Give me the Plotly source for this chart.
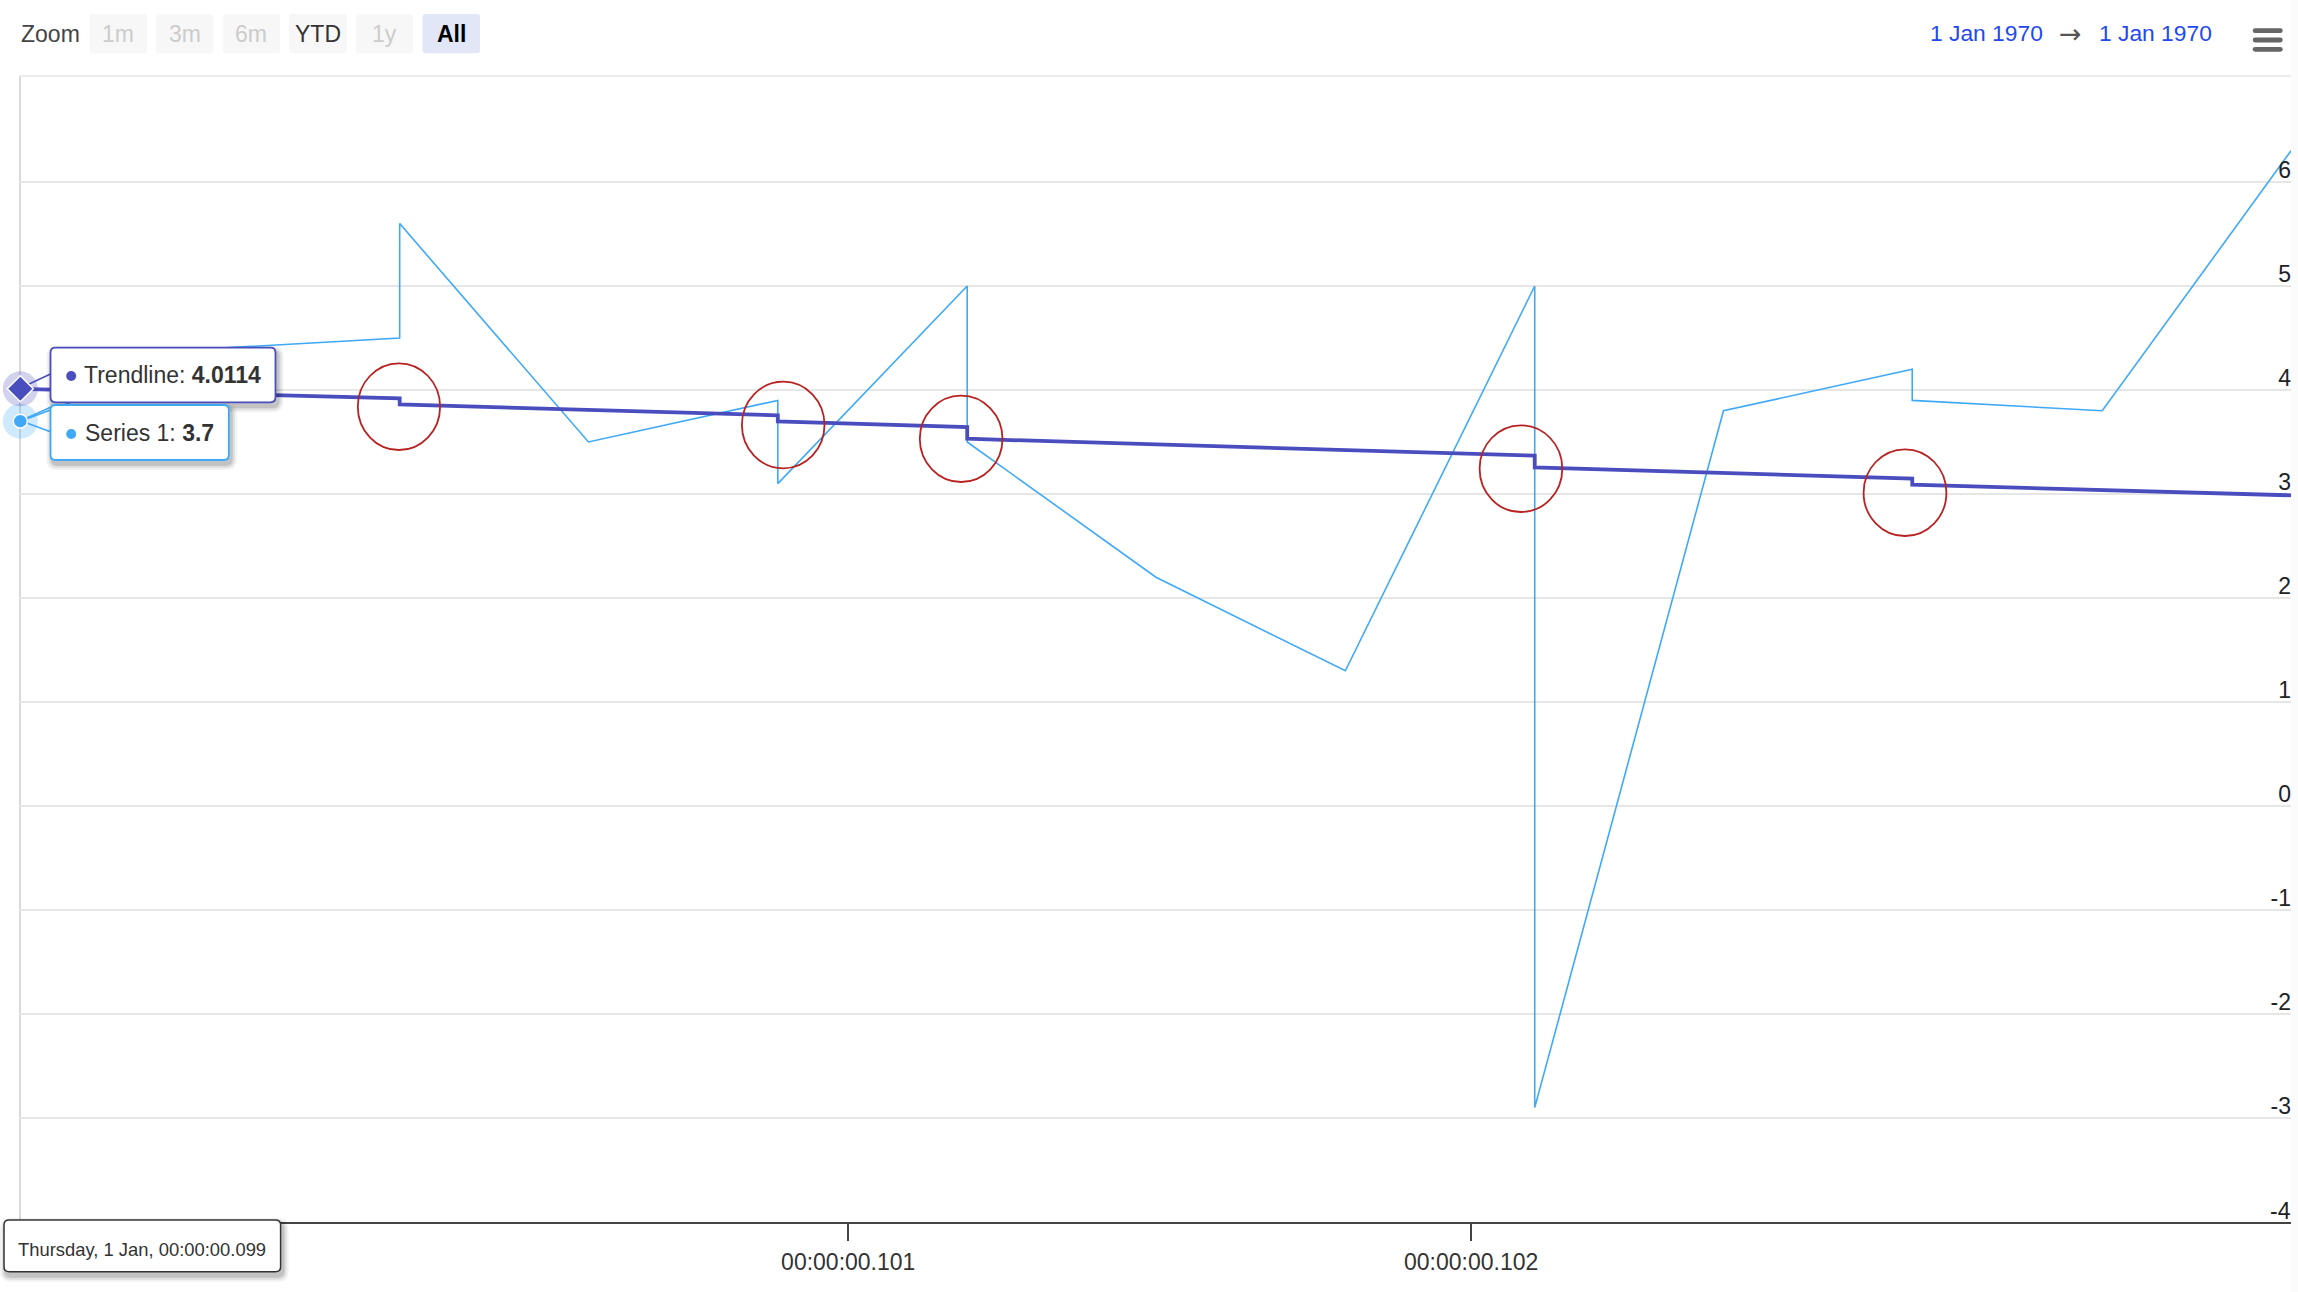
import plotly.graph_objects as go

# ---------- data ----------
x_ms = [99.671, 99.984, 100.28, 100.28, 100.583, 100.887, 100.887, 101.191, 101.191,
        101.494, 101.798, 102.102, 102.102, 102.405, 102.708, 102.708, 103.013, 103.316]
series_1 = [3.7, 4.4, 4.5, 5.6, 3.5, 3.9, 3.1, 5.0, 3.5,
            2.2, 1.3, 5.0, -2.9, 3.8, 4.2, 3.9, 3.8, 6.3]

trend_x = [99.671, 100.28, 100.28, 100.887, 100.887, 101.191, 101.191,
           102.102, 102.102, 102.708, 102.708, 103.316]
trendline = [4.0114, 3.919, 3.861, 3.756, 3.698, 3.643, 3.531,
             3.368, 3.255, 3.149, 3.089, 2.987]

y_ticks = [6, 5, 4, 3, 2, 1, 0, -1, -2, -3, -4]
y_labels = ["6", "5", "4", "3", "2", "1", "0", "-1", "-2", "-3", "-4"]
x_ticks = [101, 102]
x_labels = ["00:00:00.101", "00:00:00.102"]
zoom_buttons = ["1m", "3m", "6m", "YTD", "1y", "All"]
date_from = "1 Jan 1970"
date_to = "1 Jan 1970"
tip_date = "Thursday, 1 Jan, 00:00:00.099"

# ---------- style ----------
FONT = "Liberation Sans"
BLUE = "#3fa9f8"
INDIGO = "#4a4dbd"
RED = "#b82222"
W, H = 2298, 1292
L, R, T, B = 20, 2291, 76, 1222


def px(x):
    return (x - L) / (R - L)


def py(y):
    return (B - y) / (B - T)


def rr(x0, y0, x1, y1, r):
    a, b, c, d = px(x0), px(x1), py(y0), py(y1)
    rx, ry = r / (R - L), r / (B - T)
    return (f"M{a + rx},{c} L{b - rx},{c} Q{b},{c} {b},{c - ry} L{b},{d + ry} Q{b},{d} {b - rx},{d} "
            f"L{a + rx},{d} Q{a},{d} {a},{d + ry} L{a},{c - ry} Q{a},{c} {a + rx},{c} Z")


shapes = []
annos = []


def box(x0, y0, x1, y1, r, fill, line=None, lw=0, shadow=False):
    if shadow:
        for g, a in ((6, .05), (4, .08), (2, .12)):
            shapes.append(dict(type="path", xref="paper", yref="paper",
                               path=rr(x0 - g + 2, y0 - g + 4, x1 + g + 2, y1 + g + 4, r + g),
                               fillcolor=f"rgba(0,0,0,{a})", line=dict(width=0)))
    shapes.append(dict(type="path", xref="paper", yref="paper", path=rr(x0, y0, x1, y1, r),
                       fillcolor=fill, line=dict(color=line or fill, width=lw)))


def seg(x0, y0, x1, y1, color, width, layer="below"):
    shapes.append(dict(type="line", xref="paper", yref="paper", x0=px(x0), x1=px(x1), layer=layer,
                       y0=py(y0), y1=py(y1), line=dict(color=color, width=width)))


def text(x, y, s, size, color, anchor="left", family=FONT):
    annos.append(dict(xref="paper", yref="paper", x=px(x), y=py(y), text=s, showarrow=False,
                      xanchor=anchor, yanchor="middle", borderpad=0, borderwidth=0,
                      font=dict(family=family, size=size, color=color)))


def dot(cx, cy, r, color):
    shapes.append(dict(type="circle", xref="paper", yref="paper", x0=px(cx - r), x1=px(cx + r),
                       y0=py(cy - r), y1=py(cy + r), fillcolor=color, line=dict(width=0)))


# faint band at the right page edge
shapes.append(dict(type="rect", xref="paper", yref="paper", layer="below", x0=px(2291), x1=px(2298),
                   y0=py(0), y1=py(1292), fillcolor="#fbfbfb", line=dict(width=0)))

# plot frame
seg(L, T, L, B, "#cccccc", 1.5)
seg(L, T, R, T, "#e6e6e6", 1.5)

# red ellipses
for x0, x1, y0, y1 in [(357.8, 440.1, 363.3, 450), (741.9, 824.5, 381.7, 468.3),
                       (919.8, 1002.5, 395.7, 482), (1479.6, 1562.3, 425.3, 512),
                       (1863.6, 1946.4, 449.3, 536)]:
    shapes.append(dict(type="circle", xref="paper", yref="paper", x0=px(x0), x1=px(x1),
                       y0=py(y0), y1=py(y1), line=dict(color=RED, width=1.8)))

# range selector
text(21, 34, "Zoom", 23, "#444444")
btn_x = [(89.6, 147), (156, 213.5), (222.7, 280), (289, 346.7), (356, 413), (422.5, 480)]
for label, (x0, x1) in zip(zoom_buttons, btn_x):
    fill = "#e2e7f8" if label == "All" else "#f7f7f7"
    box(x0, 14, x1, 53.3, 3, fill)
    if label == "All":
        s, c = "<b>All</b>", "#000000"
    elif label == "YTD":
        s, c = label, "#333333"
    else:
        s, c = label, "#cccccc"
    text((x0 + x1) / 2, 34, s, 23, c, "center")

# date range
text(1930, 33, date_from, 22.8, "#2348f0")
text(2070.5, 33, "→", 27, "#555555", "center", "DejaVu Sans")
text(2099.3, 33, date_to, 22.8, "#2348f0")

# hamburger
for yc in (30.7, 40, 49.3):
    box(2252.7, yc - 2.4, 2282.7, yc + 2.4, 2.4, "#666666")

# tooltip connectors
seg(20.7, 388, 50.5, 374, INDIGO, 1.5)
seg(20.7, 420.7, 50.5, 407.3, BLUE, 1.5)
seg(20.7, 420.7, 50.5, 431.7, BLUE, 1.5)

# tooltips
box(50.5, 347.7, 275.5, 402.3, 5, "#ffffff", INDIGO, 1.8, shadow=True)
dot(71.2, 376, 5, INDIGO)
text(84.2, 375, f"Trendline: <b>{trendline[0]}</b>", 23, "#333333")

box(50.5, 405, 228.8, 460, 5, "#ffffff", BLUE, 1.8, shadow=True)
dot(71.2, 434, 5, BLUE)
text(85, 433, f"Series 1: <b>{series_1[0]}</b>", 23, "#333333")

box(4, 1220, 280.6, 1271.7, 5, "#ffffff", "#333333", 1.5, shadow=True)
text(17.9, 1249, tip_date, 18.4, "#333333")

# bottom y label: plotly drops an inside label that sits on the axis end
text(2291, 1210.5, y_labels[-1], 23, "#222222", "right")

fig = go.Figure()
fig.add_trace(go.Scatter(x=x_ms, y=series_1, mode="lines", name="Series 1",
                         line=dict(color=BLUE, width=1.6, simplify=False)))
fig.add_trace(go.Scatter(x=trend_x, y=trendline, mode="lines", name="Trendline",
                         line=dict(color=INDIGO, width=3.8, simplify=False)))
# hovered points
fig.add_trace(go.Scatter(x=[x_ms[0], trend_x[0]], y=[series_1[0], trendline[0]], mode="markers",
                         cliponaxis=False, hoverinfo="skip",
                         marker=dict(size=35, color=[BLUE, INDIGO], opacity=.25, line=dict(width=0))))
fig.add_trace(go.Scatter(x=[x_ms[0]], y=[series_1[0]], mode="markers", cliponaxis=False,
                         hoverinfo="skip",
                         marker=dict(size=14, symbol="circle", color=BLUE,
                                     line=dict(color="#ffffff", width=1.5))))
fig.add_trace(go.Scatter(x=[trend_x[0]], y=[trendline[0]], mode="markers", cliponaxis=False,
                         hoverinfo="skip",
                         marker=dict(size=20, symbol="diamond", color=INDIGO,
                                     line=dict(color="#ffffff", width=1.5))))

fig.update_layout(
    width=W, height=H, showlegend=False,
    margin=dict(l=L, r=W - R, t=T, b=H - B, pad=0),
    paper_bgcolor="#ffffff", plot_bgcolor="#ffffff",
    font=dict(family=FONT, size=23, color="#333333"),
    shapes=shapes, annotations=annos,
    xaxis=dict(range=[99.6705, 103.316], tickmode="array", tickvals=x_ticks, ticktext=x_labels,
               showgrid=False, zeroline=False, showline=True, linecolor="#444444", linewidth=1.5,
               ticks="outside", ticklen=17, tickwidth=1.5, tickcolor="#444444",
               ticklabelstandoff=2,
               tickfont=dict(family=FONT, size=23, color="#333333")),
    yaxis=dict(range=[-4, 7.019], side="right", tickmode="array", tickvals=y_ticks, ticktext=y_labels,
               ticklabelposition="inside", ticklabelshift=-12, ticklabelstandoff=-3, ticks="",
               showgrid=True, gridcolor="#e6e6e6", gridwidth=1.5, zeroline=False, showline=False,
               tickfont=dict(family=FONT, size=23, color="#222222")),
)

fig.write_html("out.html", config=dict(displayModeBar=False),
               post_script="document.body.style.margin='0';document.body.style.overflow='hidden';")
